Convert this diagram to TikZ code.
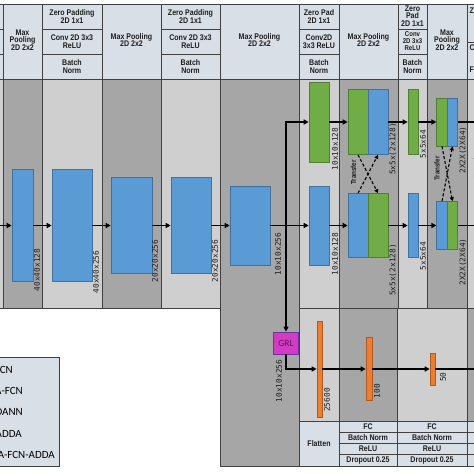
\documentclass[tikz,border=0pt]{standalone}
\usepackage{fontspec}
\usetikzlibrary{arrows.meta}
\newfontfamily\hdr{Liberation Sans Bold}[FakeStretch=0.86]
\newfontfamily\dimf{DejaVu Sans Mono}
\newfontfamily\calf{Carlito}
\definecolor{hdrc}{HTML}{D9DFE7}
\definecolor{dkg}{HTML}{A6A6A6}
\definecolor{ltg}{HTML}{CFCFCF}
\definecolor{bluef}{HTML}{5B9BD5}
\definecolor{blued}{HTML}{41719C}
\definecolor{greenf}{HTML}{70AD47}
\definecolor{greend}{HTML}{507E32}
\definecolor{orangef}{HTML}{ED7D31}
\definecolor{oranged}{HTML}{AE5A21}
\definecolor{grlf}{HTML}{D23CC3}
\definecolor{grld}{HTML}{7030A0}
\definecolor{grlt}{HTML}{5C1A5C}
\definecolor{linec}{HTML}{404040}
\definecolor{txt}{HTML}{1E1E1E}
\begin{document}
\begin{tikzpicture}[x=1pt,y=-1pt,
  hdrtext/.style={font=\hdr\fontsize{8.2}{7.5}\selectfont, text=txt, align=center, inner sep=0pt},
  smalltext/.style={font=\hdr\fontsize{7}{7}\selectfont, text=txt, align=center, inner sep=0pt},
  dimlab/.style={font=\dimf\fontsize{7.8}{8}\selectfont, rotate=90, inner sep=0pt, text=txt},
  translab/.style={font=\hdr\fontsize{7.3}{7.5}\selectfont, rotate=90, inner sep=0pt, text=txt},
  cell/.style={draw=linec, line width=0.8pt},
  sz/.style 2 args={minimum width=#1pt, minimum height=#2pt},
  blu/.style={draw=blued, fill=bluef, line width=0.6pt, inner sep=0pt},
  grn/.style={draw=greend, fill=greenf, line width=0.6pt, inner sep=0pt},
  org/.style={draw=oranged, fill=orangef, line width=0.6pt, inner sep=0pt},
  arr/.style={line width=1.5pt, -{Triangle[length=5pt,width=5pt]}},
  tarr/.style={line width=1.1pt, dash pattern=on 3pt off 2pt, -{Triangle[length=4pt,width=4pt]}},
  legtext/.style={font=\calf\fontsize{11}{11}\selectfont, anchor=east, inner sep=0pt}
]
\useasboundingbox (0,0) rectangle (474,474);
\fill[white] (0,0) rectangle (474,474);

% ---- upper bands
\foreach \xa/\xb/\c in {-40/3/ltg, 3/42/dkg, 42/102/ltg, 102/161/dkg, 161/220/ltg, 299/339/ltg, 339/398/dkg, 398/427/ltg, 427/467/dkg, 467/520/ltg}
  \draw[cell, fill=\c] (\xa,79) rectangle (\xb,308);
\draw[cell, fill=dkg] (220,79) rectangle (299,466);

% ---- lower section
\foreach \xa/\xb/\c in {299/339/ltg, 339/397/dkg, 397/467/ltg, 467/520/dkg}
  \draw[cell, fill=\c] (\xa,308) rectangle (\xb,421);
\draw[cell, fill=hdrc] (299,421) rectangle (339,466);
\foreach \xa/\xb in {339/397, 397/467, 467/520} {
  \foreach \ya/\yb in {421/432.25, 432.25/443.5, 443.5/454.75, 454.75/466}
    \draw[cell, fill=hdrc] (\xa,\ya) rectangle (\xb,\yb);
}

% ---- header
\foreach \xa/\xb in {-40/3, 42/102, 161/220, 299/339, 398/427} {
  \draw[cell, fill=hdrc] (\xa,4) rectangle (\xb,29);
  \draw[cell, fill=hdrc] (\xa,29) rectangle (\xb,54);
  \draw[cell, fill=hdrc] (\xa,54) rectangle (\xb,79);
}
\foreach \xa/\xb in {3/42, 102/161, 220/299, 339/398, 427/467}
  \draw[cell, fill=hdrc] (\xa,4) rectangle (\xb,79);
\draw[cell, fill=hdrc] (467,4) rectangle (520,42);
\draw[cell, fill=hdrc] (467,42) rectangle (520,79);

% header texts
\node[hdrtext] (h1) at (22.5,40) {Max\\Pooling\\2D 2x2};
\node[hdrtext] (h2a) at (72,16.5) {Zero Padding\\2D 1x1};
\node[hdrtext] (h2b) at (72,41.5) {Conv 2D 3x3\\ReLU};
\node[hdrtext] (h2c) at (72,66.5) {Batch\\Norm};
\node[hdrtext] (h3) at (131.5,40) {Max Pooling\\2D 2x2};
\node[hdrtext] (h4a) at (190.5,16.5) {Zero Padding\\2D 1x1};
\node[hdrtext] (h4b) at (190.5,41.5) {Conv 2D 3x3\\ReLU};
\node[hdrtext] (h4c) at (190.5,66.5) {Batch\\Norm};
\node[hdrtext] (h5) at (259.5,40) {Max Pooling\\2D 2x2};
\node[hdrtext] (h6a) at (319,16.5) {Zero Pad\\2D 1x1};
\node[hdrtext] (h6b) at (319,41.5) {Conv2D\\3x3 ReLU};
\node[hdrtext] (h6c) at (319,66.5) {Batch\\Norm};
\node[hdrtext] (h7) at (368.5,40) {Max Pooling\\2D 2x2};
\node[hdrtext] (h8a) at (412.5,16) {Zero\\Pad\\2D 1x1};
\node[smalltext] (h8b) at (412.5,41) {Conv\\2D 3x3\\ReLU};
\node[hdrtext] (h8c) at (412.5,66.5) {Batch\\Norm};
\node[hdrtext] (h9) at (447,40) {Max\\Pooling\\2D 2x2};
\node[hdrtext, anchor=west] (h10a) at (469.5,11) {Zero};
\node[hdrtext, anchor=west] (h10b) at (469.5,48) {Conv};
\node[hdrtext, anchor=west] (h10c) at (469.5,70) {Flatten};

% table texts
\node[hdrtext] (t0) at (319,444) {Flatten};
\foreach \xc/\nm in {368/a, 432/b} {
  \node[hdrtext] (fc\nm) at (\xc,426.8) {FC};
  \node[hdrtext] (bn\nm) at (\xc,438) {Batch Norm};
  \node[hdrtext] (re\nm) at (\xc,449.2) {ReLU};
  \node[hdrtext] (dr\nm) at (\xc,460.5) {Dropout 0.25};
}

% ---- legend
\draw[cell, fill=hdrc] (-40,357) rectangle (59,466);
\node[legtext] (lg1) at (13,370) {FCN};
\node[legtext] (lg2) at (23,391) {DA-FCN};
\node[legtext] (lg3) at (23,412) {DANN};
\node[legtext] (lg4) at (22,434) {ADDA};
\node[legtext] (lg5) at (55,455) {DA-FCN-ADDA};

% ---- feature maps
\node[blu, sz={21}{112}] (b1) at (22.5,225.5) {};
\node[blu, sz={40}{112}] (b2) at (72,225.5) {};
\node[blu, sz={41}{96}] (b3) at (131.5,225.5) {};
\node[blu, sz={40}{96}] (b4) at (191,225.5) {};
\node[blu, sz={40}{79}] (b5) at (250,225.5) {};
\node[grn, sz={20}{80}] (g6) at (319,122) {};
\node[blu, sz={20}{79}] (b6) at (319,225.5) {};
\node[grn, sz={20}{65}] (c7tg) at (358,122) {};
\node[blu, sz={20}{65}] (c7tb) at (378,122) {};
\node[blu, sz={20}{64}] (c7bb) at (358,225.5) {};
\node[grn, sz={20}{64}] (c7bg) at (378,225.5) {};
\node[grn, sz={10}{65}] (g8) at (413,122) {};
\node[blu, sz={10}{64}] (b8) at (413,225.5) {};
\node[grn, sz={10.5}{48}] (c9tg) at (442,122) {};
\node[blu, sz={10.5}{48}] (c9tb) at (452.5,122) {};
\node[blu, sz={10.5}{48}] (c9bb) at (442,225.5) {};
\node[grn, sz={10.5}{48}] (c9bg) at (452.5,225.5) {};

\node[draw=grld, fill=grlf, line width=0.8pt, sz={25}{22}, inner sep=0pt, font=\calf\fontsize{9.5}{9.5}\selectfont, text=grlt] (grl) at (286,343) {GRL};

\node[org, sz={5}{96}] (o1) at (319.5,369) {};
\node[org, sz={6}{63}] (o2) at (369,369) {};
\node[org, sz={5}{32}] (o3) at (432.5,369) {};

% ---- dimension labels
\node[dimlab] (l1) at (37,270) {40x40x128};
\node[dimlab] (l2) at (96,272) {40x40x256};
\node[dimlab] (l3) at (155,261) {20x20x256};
\node[dimlab] (l4) at (215,261) {20x20x256};
\node[dimlab] (l5) at (278,254) {10x10x256};
\node[dimlab] (l6t) at (335,149) {10x10x128};
\node[dimlab] (l6b) at (335,254) {10x10x128};
\node[dimlab] (l7t) at (393,149) {5x5x(2x128)};
\node[dimlab] (l7b) at (393,270) {5x5x(2x128)};
\node[dimlab] (l8t) at (423,144) {5x5x64};
\node[dimlab] (l8b) at (423,256) {5x5x64};
\node[dimlab] (l9t) at (463,150) {2X2X(2X64)};
\node[dimlab] (l9b) at (463,262) {2X2X(2X64)};
\node[dimlab] (lg) at (279,381) {10x10x256};
\node[dimlab] (lo1) at (327,400) {25600};
\node[dimlab] (lo2) at (377,391) {100};
\node[dimlab] (lo3) at (443,377) {50};

\node[translab] (tr1) at (353.5,172.5) {Transfer};
\node[translab] (tr2) at (437,168.5) {Transfer};
\node[translab] (tr3) at (476.5,165) {Transfer};

% ---- connectors
\coordinate (in) at (-5,225.5);
\coordinate (J) at (286,225.5);
\coordinate (outt) at (485,122);
\coordinate (outb) at (485,225.5);
\coordinate (outo) at (485,369);
\draw[arr] (in) -- (b1.west);
\draw[arr] (b1.east) -- (b2.west);
\draw[arr] (b2.east) -- (b3.west);
\draw[arr] (b3.east) -- (b4.west);
\draw[arr] (b4.east) -- (b5.west);
\draw[arr] (b5.east) -- (b6.west);
\draw[arr] (J) |- (g6.west);
\draw[arr] (J) -- (grl.north);
\draw[arr] (g6.east) -- (c7tg.west);
\draw[arr] (b6.east) -- (c7bb.west);
\draw[arr] (c7tb.east) -- (g8.west);
\draw[arr] (c7bg.east) -- (b8.west);
\draw[arr] (g8.east) -- (c9tg.west);
\draw[arr] (b8.east) -- (c9bb.west);
\draw[arr] (c9tb.east) -- (outt);
\draw[arr] (c9bg.east) -- (outb);
\draw[arr] (grl.south) |- (o1.west);
\draw[arr] (o1.east) -- (o2.west);
\draw[arr] (o2.east) -- (o3.west);
\draw[arr] (o3.east) -- (outo);

\draw[tarr] (c7tg.south) -- (c7bg.north);
\draw[tarr] (c7bb.north) -- (c7tb.south);
\draw[tarr] (c9tg.south) -- (c9bg.north);
\draw[tarr] (c9bb.north) -- (c9tb.south);
\end{tikzpicture}
\end{document}
